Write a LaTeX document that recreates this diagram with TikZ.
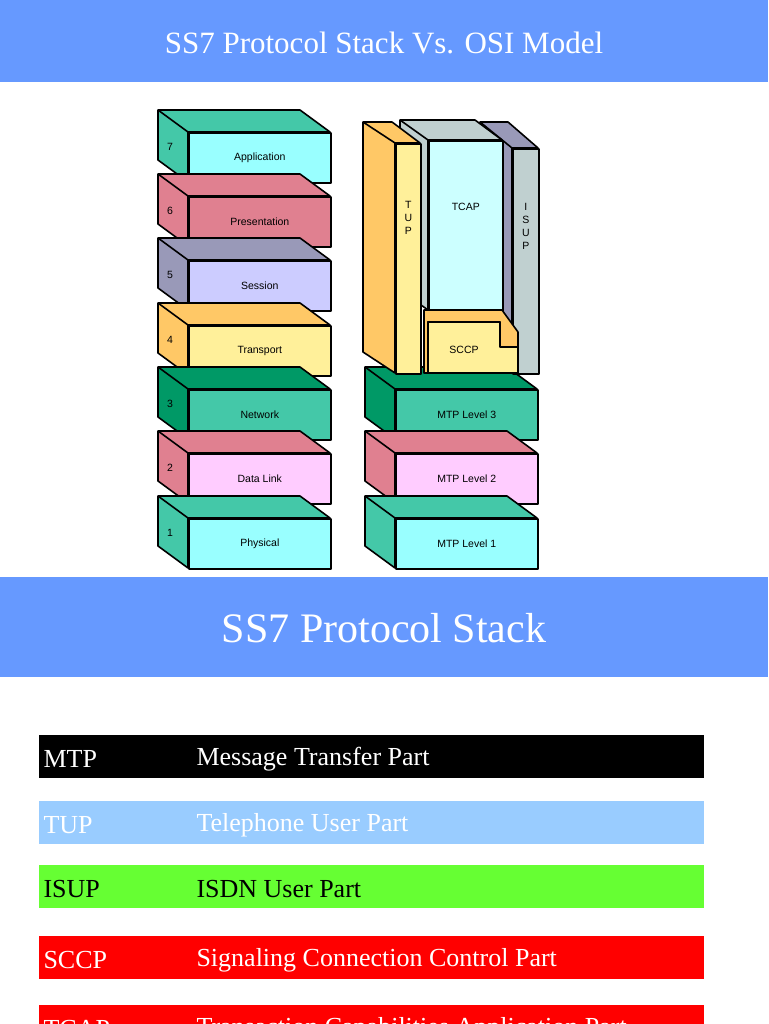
\documentclass[tikz,border=0pt]{standalone}
\usepackage{fontspec}
\usetikzlibrary{positioning}
\setmainfont{Liberation Serif}
\newfontfamily\blockfont{Liberation Sans}
\definecolor{band}{HTML}{6699FF}
\definecolor{teal}{HTML}{44C8A8}
\definecolor{dteal}{HTML}{009966}
\definecolor{cyanf}{HTML}{99FFFF}
\definecolor{pinks}{HTML}{E08090}
\definecolor{pinkf}{HTML}{FFCCFF}
\definecolor{lilac}{HTML}{CCCCFF}
\definecolor{greyv}{HTML}{9999B8}
\definecolor{yelf}{HTML}{FFF09A}
\definecolor{oran}{HTML}{FFC866}
\definecolor{tcapf}{HTML}{CCFFFF}
\definecolor{greyc}{HTML}{C0D0D0}
\definecolor{tupblue}{HTML}{99CCFF}
\definecolor{isupgreen}{HTML}{66FF33}
\tikzset{face/.style={draw=black,line width=1.6pt,line join=round},
  lbl/.style={font=\blockfont\fontsize{10.5}{13}\selectfont},
  row/.style={anchor=west,font=\fontsize{26}{28}\selectfont}}
% box with side/top colour #3, front colour #4; front top-left at (#1,#2)
\newcommand\osiblock[6]{%
  \fill[#3,face] (#1-30,#2-22) -- (#1+112,#2-22) -- (#1+142,#2) -- (#1,#2) -- (#1,#2+50) -- (#1-30,#2+28) -- cycle;
  \draw[face] (#1-30,#2-22) -- (#1,#2);
  \node[face,fill=#4,minimum width=142pt,minimum height=50pt,anchor=north west,inner sep=0pt,lbl] (#5) at (#1,#2) {#6};}
\begin{document}
\begin{tikzpicture}[x=1pt,y=-1pt]
\useasboundingbox (0,0) rectangle (768,1024);
\clip (0,0) rectangle (768,1024);
\fill[band] (0,0) rectangle (768,82);
\node[white,font=\fontsize{31}{34}\selectfont] (title) at (384,43) {SS7 Protocol Stack Vs. OSI Model};
% OSI stack
\osiblock{188}{132}{teal}{cyanf}{app}{Application}
\osiblock{188}{196}{pinks}{pinks}{pres}{Presentation}
\osiblock{188}{260}{greyv}{lilac}{sess}{Session}
\osiblock{188}{325}{oran}{yelf}{trans}{Transport}
\osiblock{188}{389}{dteal}{teal}{net}{Network}
\osiblock{188}{453}{pinks}{pinkf}{link}{Data Link}
\osiblock{188}{518}{teal}{cyanf}{phys}{Physical}
\foreach \n/\y in {7/132,6/196,5/260,4/325,3/389,2/453,1/518}
  \node[lbl] at (170,\y+15) {\n};
% SS7 stack
\osiblock{395}{389}{dteal}{teal}{mtp3}{MTP Level 3}
\osiblock{395}{453}{pinks}{pinkf}{mtp2}{MTP Level 2}
\osiblock{395}{518}{teal}{cyanf}{mtp1}{MTP Level 1}
% ISUP
\fill[greyv,face] (480,122) -- (508,122) -- (538,148) -- (512,148) -- (512,373) -- (480,352) -- cycle;
\draw[face] (480,122) -- (512,148);
\node[face,fill=greyc,minimum width=26pt,minimum height=225pt,anchor=north west,inner sep=0pt] (isup) at (512,148) {};
\node[lbl,align=center,below=52pt of isup.north] {I\\S\\U\\P};
% TCAP
\fill[greyc,face] (400,120) -- (475,120) -- (502,140) -- (428,140) -- (428,310) -- (400,290) -- cycle;
\draw[face] (400,120) -- (428,140);
\node[face,fill=tcapf,minimum width=74pt,minimum height=170pt,anchor=north west,inner sep=0pt,lbl] (tcap) at (428,140) {};
\node[lbl,below=60pt of tcap.north] {TCAP};
% SCCP
\fill[oran,face] (424,310) -- (502,310) -- (518,332) -- (518,347) -- (500,347) -- (500,322) -- (428,322) -- (428,373) -- (424,373) -- cycle;
\fill[yelf,face] (428,322) -- (500,322) -- (500,347) -- (518,347) -- (518,373) -- (428,373) -- cycle;
\node[lbl] (sccp) at (464,350) {SCCP};
% TUP
\fill[oran,face] (363,122) -- (392,122) -- (420,143) -- (395,143) -- (395,373) -- (363,352) -- cycle;
\draw[face] (363,122) -- (395,143);
\node[face,fill=yelf,minimum width=25pt,minimum height=230pt,anchor=north west,inner sep=0pt,lbl] (tup) at (395,143) {};
\node[lbl,align=center,below=55pt of tup.north] {T\\U\\P};
% second title
\fill[band] (0,577) rectangle (768,677);
\node[white,font=\fontsize{42}{46}\selectfont] (title2) at (384,628) {SS7 Protocol Stack};
% abbreviation table
\foreach \y/\bg/\fg/\ab/\txt in {735/black/white/MTP/Message Transfer Part,
    801/tupblue/white/TUP/Telephone User Part,
    865/isupgreen/black/ISUP/ISDN User Part,
    936/red/white/SCCP/Signaling Connection Control Part,
    1005/red/white/TCAP/Transaction Capabilities Application Part}{
  \fill[\bg] (39,\y) rectangle (704,\y+43);
  \node[row,text=\fg] at (40,\y+24) {\ab};
  \node[row,text=\fg] at (193,\y+24) {\txt};}
\end{tikzpicture}
\end{document}
